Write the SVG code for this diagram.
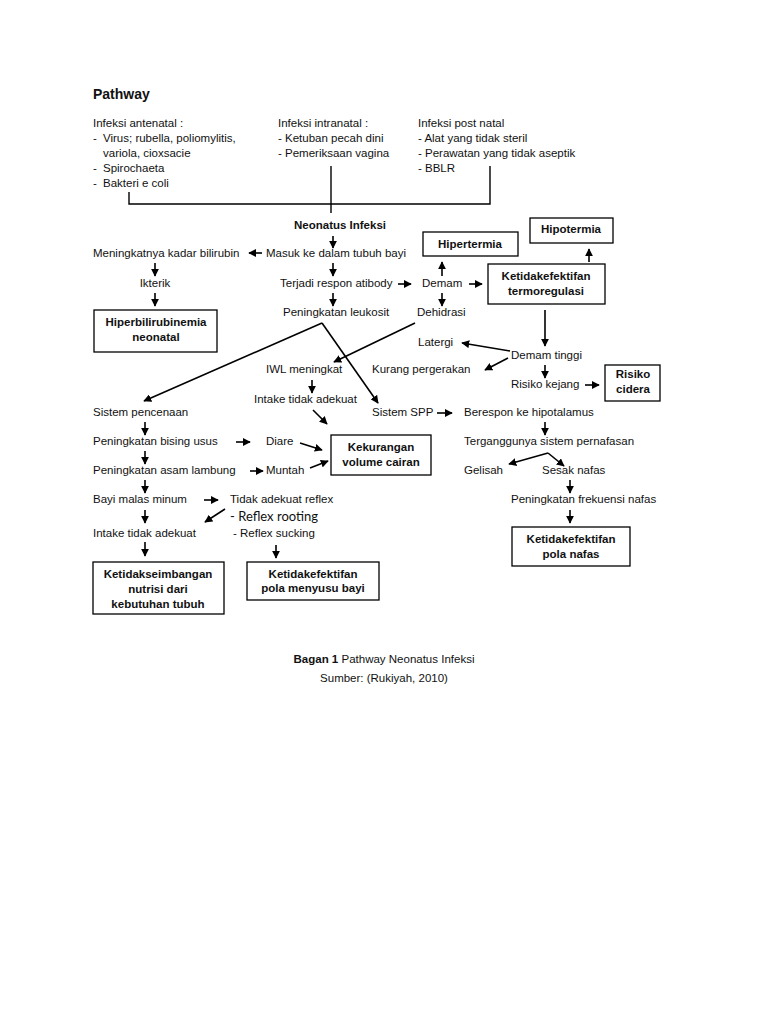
<svg xmlns="http://www.w3.org/2000/svg" width="768" height="1024" viewBox="0 0 768 1024">
<defs>
<marker id="ah" viewBox="0 0 10 10" refX="9" refY="5" markerWidth="8" markerHeight="8" markerUnits="userSpaceOnUse" orient="auto">
<path d="M0,0 L10,5 L0,10 Z" fill="#000"/>
</marker>
</defs>
<style>
text{font-family:"Liberation Sans",Arial,sans-serif;font-size:11.5px;fill:#111}
.b{font-weight:bold}
.c{text-anchor:middle}
.bx{fill:#fff;stroke:#000;stroke-width:1.3}
.ln{fill:none;stroke:#000;stroke-width:1.4}
.ar{fill:none;stroke:#000;stroke-width:1.6;marker-end:url(#ah)}
.cal{font-family:Lato,"Open Sans",sans-serif;font-size:13px}
</style>
<rect width="768" height="1024" fill="#fff"/>
<text x="93" y="99" class="b" style="font-size:14px">Pathway</text>

<g id="antenatal">
<text x="93" y="127">Infeksi antenatal :</text>
<text x="93" y="142">-<tspan x="103">Virus; rubella, poliomylitis,</tspan></text>
<text x="103" y="157">variola, cioxsacie</text>
<text x="93" y="172">-<tspan x="103">Spirochaeta</tspan></text>
<text x="93" y="187">-<tspan x="103">Bakteri e coli</tspan></text>
</g>
<g id="intranatal">
<text x="278" y="127">Infeksi intranatal :</text>
<text x="278" y="142">- Ketuban pecah dini</text>
<text x="278" y="157">- Pemeriksaan vagina</text>
</g>
<g id="postnatal">
<text x="418" y="127">Infeksi post natal</text>
<text x="418" y="142">- Alat yang tidak steril</text>
<text x="418" y="157">- Perawatan yang tidak aseptik</text>
<text x="418" y="172">- BBLR</text>
</g>

<g id="connectors">
<path class="ln" d="M129,192 V204 H490 V166"/>
<path class="ln" d="M331,166 V213"/>
<path class="ar" d="M333,236 V248"/>
<path class="ar" d="M262,253 H249"/>
<path class="ar" d="M155,263 V276"/>
<path class="ar" d="M155,293 V306"/>
<path class="ar" d="M333,263 V276"/>
<path class="ar" d="M398,284 H411"/>
<path class="ar" d="M442,276 V262"/>
<path class="ar" d="M469,284 H482"/>
<path class="ar" d="M589,262 V249"/>
<path class="ar" d="M442,293 V306"/>
<path class="ar" d="M333,293 V306"/>
<path class="ar" d="M545,310 V346"/>
<path class="ar" d="M510,351 L462,343"/>
<path class="ar" d="M508,358 L485,370"/>
<path class="ar" d="M545,365 V378"/>
<path class="ar" d="M585,385 H599"/>
<path class="ar" d="M322,323 L144,401"/>
<path class="ar" d="M322,323 L378,403"/>
<path class="ar" d="M415,323 L334,362"/>
<path class="ar" d="M312,380 V393"/>
<path class="ar" d="M313,410 L327,424"/>
<path class="ar" d="M437,413 H452"/>
<path class="ar" d="M545,422 V435"/>
<path class="ar" d="M548,453 L509,464"/>
<path class="ar" d="M548,453 L564,466"/>
<path class="ar" d="M570,480 V493"/>
<path class="ar" d="M570,510 V523"/>
<path class="ar" d="M145,422 V435"/>
<path class="ar" d="M236,442 H250"/>
<path class="ar" d="M300,443 L322,450"/>
<path class="ar" d="M145,451 V464"/>
<path class="ar" d="M250,471 H263"/>
<path class="ar" d="M310,468 L328,461"/>
<path class="ar" d="M145,480 V493"/>
<path class="ar" d="M204,500 H218"/>
<path class="ar" d="M225,509 L205,522"/>
<path class="ar" d="M145,510 V523"/>
<path class="ar" d="M145,542 V556"/>
<path class="ar" d="M276,545 V558"/>
</g>

<g id="neonatus"><text x="340" y="229" class="b c">Neonatus Infeksi</text></g>
<g id="masuk"><text x="266" y="257">Masuk ke dalam tubuh bayi</text></g>
<g id="bilirubin"><text x="93" y="257">Meningkatnya kadar bilirubin</text></g>
<g id="ikterik"><text x="155" y="287" class="c">Ikterik</text></g>
<g id="hiperbilirubinemia">
<rect class="bx" x="94" y="310" width="123" height="42"/>
<text x="156" y="326" class="b c">Hiperbilirubinemia</text>
<text x="156" y="341" class="b c">neonatal</text>
</g>
<g id="respon"><text x="280" y="287">Terjadi respon atibody</text></g>
<g id="demam"><text x="422" y="287">Demam</text></g>
<g id="hipertermia">
<rect class="bx" x="423" y="232" width="95" height="24"/>
<text x="470" y="248" class="b c">Hipertermia</text>
</g>
<g id="termoregulasi">
<rect class="bx" x="488" y="264" width="117" height="40"/>
<text x="546" y="280" class="b c">Ketidakefektifan</text>
<text x="546" y="295" class="b c">termoregulasi</text>
</g>
<g id="hipotermia">
<rect class="bx" x="530" y="218" width="83" height="25"/>
<text x="571" y="233" class="b c">Hipotermia</text>
</g>
<g id="dehidrasi"><text x="417" y="316">Dehidrasi</text></g>
<g id="leukosit"><text x="283" y="316">Peningkatan leukosit</text></g>
<g id="demamtinggi"><text x="511" y="359">Demam tinggi</text></g>
<g id="latergi"><text x="418" y="346">Latergi</text></g>
<g id="kurang"><text x="372" y="373">Kurang pergerakan</text></g>
<g id="kejang"><text x="511" y="388">Risiko kejang</text></g>
<g id="cidera">
<rect class="bx" x="605" y="365" width="55" height="36"/>
<text x="633" y="378" class="b c">Risiko</text>
<text x="633" y="393" class="b c">cidera</text>
</g>
<g id="iwl"><text x="266" y="373">IWL meningkat</text></g>
<g id="intake1"><text x="254" y="403">Intake tidak adekuat</text></g>
<g id="spp"><text x="372" y="416">Sistem SPP</text></g>
<g id="hipotalamus"><text x="464" y="416">Berespon ke hipotalamus</text></g>
<g id="pernafasan"><text x="464" y="445">Terganggunya sistem pernafasan</text></g>
<g id="gelisah"><text x="464" y="474">Gelisah</text></g>
<g id="sesak"><text x="542" y="474">Sesak nafas</text></g>
<g id="frekuensi"><text x="511" y="503">Peningkatan frekuensi nafas</text></g>
<g id="polanafas">
<rect class="bx" x="512" y="527" width="118" height="39"/>
<text x="571" y="543" class="b c">Ketidakefektifan</text>
<text x="571" y="558" class="b c">pola nafas</text>
</g>
<g id="pencenaan"><text x="93" y="416">Sistem pencenaan</text></g>
<g id="bising"><text x="93" y="445">Peningkatan bising usus</text></g>
<g id="diare"><text x="266" y="445">Diare</text></g>
<g id="cairan">
<rect class="bx" x="331" y="435" width="100" height="40"/>
<text x="381" y="451" class="b c">Kekurangan</text>
<text x="381" y="466" class="b c">volume cairan</text>
</g>
<g id="lambung"><text x="93" y="474">Peningkatan asam lambung</text></g>
<g id="muntah"><text x="266" y="474">Muntah</text></g>
<g id="malas"><text x="93" y="503">Bayi malas minum</text></g>
<g id="reflex">
<text x="230" y="503">Tidak adekuat reflex</text>
<text x="230" y="521" class="cal">- Reflex rooting</text>
<text x="233" y="537">- Reflex sucking</text>
</g>
<g id="intake2"><text x="93" y="537">Intake tidak adekuat</text></g>
<g id="nutrisi">
<rect class="bx" x="93" y="562" width="131" height="52"/>
<text x="158" y="578" class="b c">Ketidakseimbangan</text>
<text x="158" y="593" class="b c">nutrisi dari</text>
<text x="158" y="608" class="b c">kebutuhan tubuh</text>
</g>
<g id="menyusu">
<rect class="bx" x="247" y="562" width="132" height="38"/>
<text x="313" y="578" class="b c">Ketidakefektifan</text>
<text x="313" y="592" class="b c">pola menyusu bayi</text>
</g>
<g id="caption">
<text x="384" y="663" class="c"><tspan class="b">Bagan 1</tspan> Pathway Neonatus Infeksi</text>
<text x="384" y="682" class="c">Sumber: (Rukiyah, 2010)</text>
</g>
</svg>
